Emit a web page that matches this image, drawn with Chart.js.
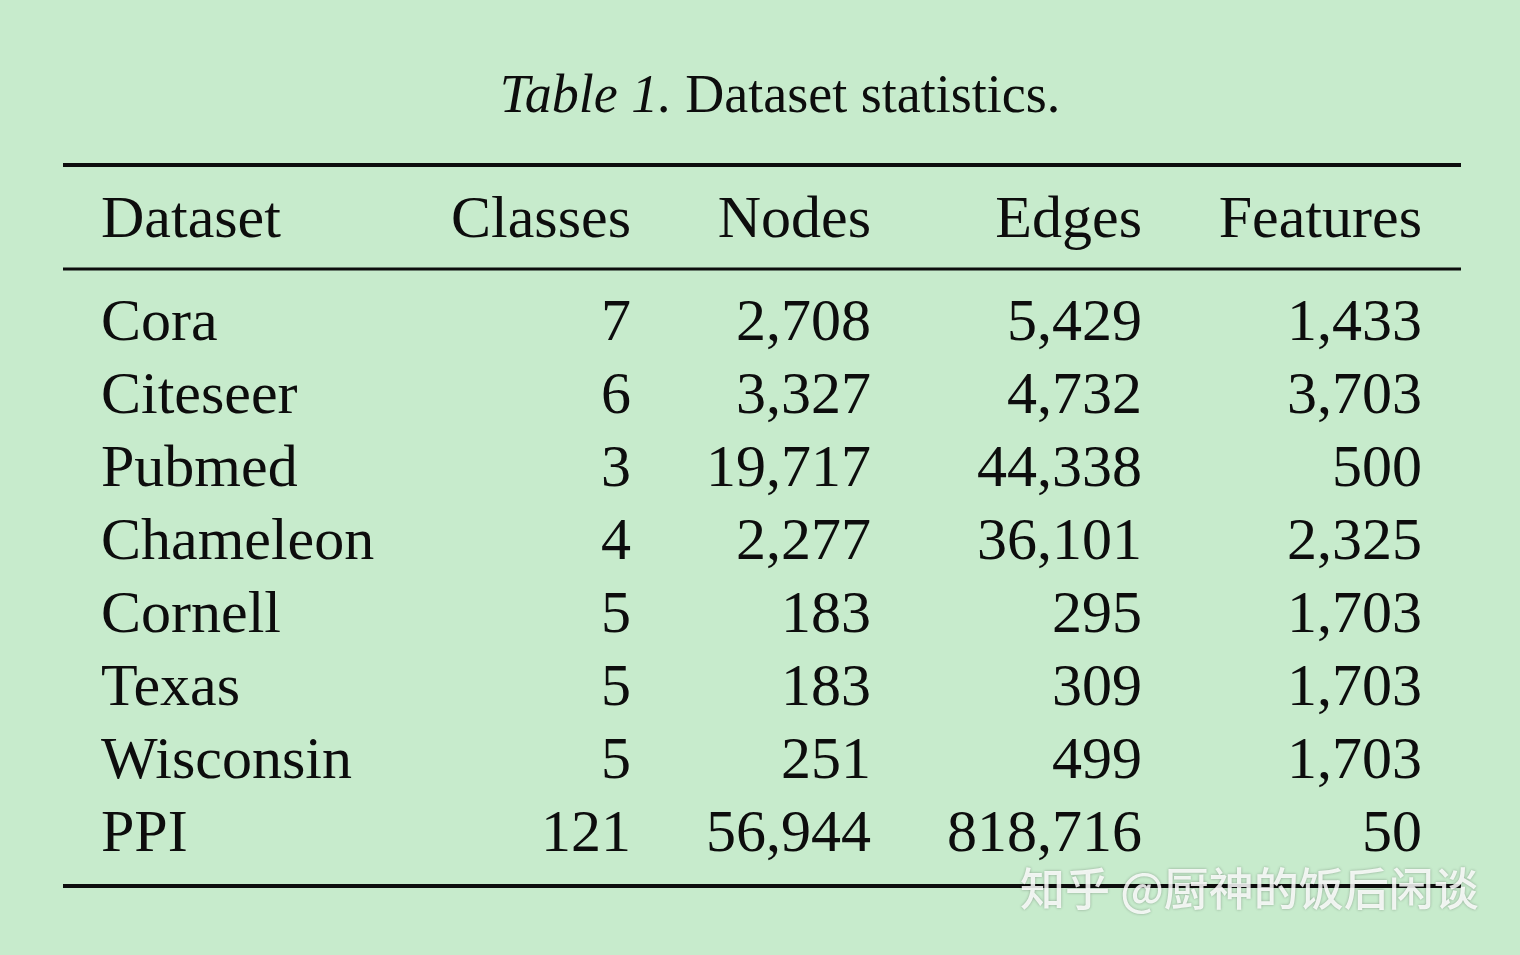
<!DOCTYPE html>
<html><head><meta charset="utf-8">
<script src="https://cdn.jsdelivr.net/npm/chart.js@4/dist/chart.umd.min.js"></script>
<style>html,body{margin:0;padding:0;background:#c7ebcc;}#w{width:1520px;height:955px;}</style>
</head><body><div id="w"><canvas id="c"></canvas></div>
<script>
const title = ["Table 1.", " Dataset statistics."];
const headers = ["Dataset", "Classes", "Nodes", "Edges", "Features"];
const datasets = ["Cora","Citeseer","Pubmed","Chameleon","Cornell","Texas","Wisconsin","PPI"];
const classes = ["7","6","3","4","5","5","5","121"];
const nodes = ["2,708","3,327","19,717","2,277","183","183","251","56,944"];
const edges = ["5,429","4,732","44,338","36,101","295","309","499","818,716"];
const features = ["1,433","3,703","500","2,325","1,703","1,703","1,703","50"];
const watermark = "知乎 @厨神的饭后闲谈";

// layout (in scale units == pixels)
const colX = [101, 631, 871, 1142, 1422];
const colAlign = ["left","right","right","right","right"];
const headerY = 237, firstRowY = 340, rowStep = 73;
const rules = [[165,4],[269,3],[886,4]];
const ruleX = [63, 1461];
const FONT = '"Liberation Serif","DejaVu Serif",serif';

const tablePlugin = {
  id: 'table',
  afterDraw(chart) {
    const {ctx, scales:{x, y}} = chart;
    ctx.save();
    ctx.fillStyle = '#0d0d0d';
    ctx.textBaseline = 'alphabetic';
    ctx.font = 'italic 54px ' + FONT;
    const w1 = ctx.measureText(title[0]).width;
    ctx.font = '54px ' + FONT;
    const w2 = ctx.measureText(title[1]).width;
    let tx = x.getPixelForValue(780) - (w1 + w2) / 2;
    ctx.textAlign = 'left';
    ctx.font = 'italic 54px ' + FONT;
    ctx.fillText(title[0], tx, y.getPixelForValue(112));
    ctx.font = '54px ' + FONT;
    ctx.fillText(title[1], tx + w1, y.getPixelForValue(112));
    ctx.strokeStyle = '#0d0d0d';
    rules.forEach(([ry, lw]) => {
      ctx.lineWidth = lw;
      ctx.beginPath();
      ctx.moveTo(x.getPixelForValue(ruleX[0]), y.getPixelForValue(ry));
      ctx.lineTo(x.getPixelForValue(ruleX[1]), y.getPixelForValue(ry));
      ctx.stroke();
    });
    ctx.font = '60px ' + FONT;
    headers.forEach((h, i) => {
      ctx.textAlign = colAlign[i];
      ctx.fillText(h, x.getPixelForValue(colX[i]), y.getPixelForValue(headerY));
    });
    const cols = [datasets, classes, nodes, edges, features];
    datasets.forEach((_, r) => {
      cols.forEach((col, i) => {
        ctx.textAlign = colAlign[i];
        ctx.fillText(col[r], x.getPixelForValue(colX[i]), y.getPixelForValue(firstRowY + r * rowStep));
      });
    });
    ctx.font = '500 45px "Noto Sans CJK SC"';
    ctx.textAlign = 'left';
    ctx.shadowColor = 'rgba(0,0,0,0.35)';
    ctx.shadowBlur = 3;
    ctx.fillStyle = 'rgba(255,255,255,0.85)';
    ctx.fillText(watermark, x.getPixelForValue(1020), y.getPixelForValue(906));
    ctx.restore();
  }
};

new Chart(document.getElementById('c'), {
  type: 'scatter',
  data: { datasets: [{ data: [] }] },
  options: {
    responsive: true, maintainAspectRatio: false, animation: false,
    layout: { padding: 0 },
    plugins: { legend: { display: false }, tooltip: { enabled: false } },
    scales: {
      x: { type: 'linear', min: 0, max: 1520, display: false },
      y: { type: 'linear', min: 0, max: 955, reverse: true, display: false }
    }
  },
  plugins: [tablePlugin]
});
</script></body></html>
